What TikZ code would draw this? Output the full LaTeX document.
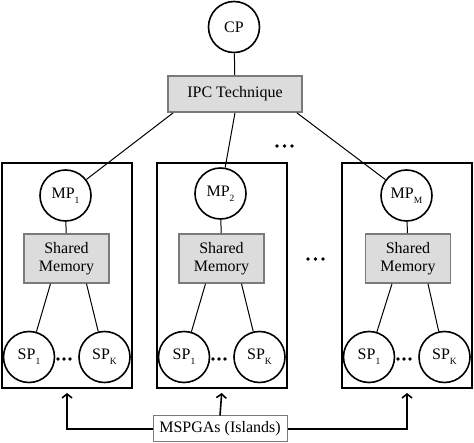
\documentclass[tikz,border=0pt]{standalone}
\usepackage{fontspec}
\setmainfont{Liberation Serif}
\usetikzlibrary{arrows.meta,calc}
\definecolor{boxfill}{HTML}{DCDCDC}
\definecolor{boxline}{HTML}{7A7A7A}
\newcommand{\mysub}[1]{\raisebox{-5pt}{\fontsize{9.5}{9.5}\selectfont #1}}
\tikzset{
  proc/.style={circle,draw,line width=1.6pt,minimum size=51pt,inner sep=0pt,font=\fontsize{16}{17}\selectfont},
  gbox/.style={rectangle,draw=boxline,fill=boxfill,line width=1.6pt,inner sep=0pt,font=\fontsize{16}{18.5}\selectfont,align=center},
  frame/.style={rectangle,draw,line width=2pt,minimum width=130pt,minimum height=225pt,inner sep=0pt},
  conn/.style={line width=1pt},
  arr/.style={line width=1.6pt,-{Straight Barb[length=4pt,width=10pt]},shorten >=4pt},
  dot/.style={radius=1.9pt}
}
\begin{document}
\begin{tikzpicture}[x=1pt,y=-1pt]
\useasboundingbox (0,0) rectangle (474,443);
% frames
\node[frame] (box1) at (67,275.5) {};
\node[frame] (box2) at (222,275.5) {};
\node[frame] (box3) at (407,275.5) {};
% top
\node[proc] (cp) at (234,27) {CP};
\node[gbox,minimum width=134pt,minimum height=36pt] (ipc) at (235,94) {IPC Technique};
\draw[conn] (cp) -- (ipc);
% MPs
\node[proc,fill=white] (mp1) at (65.5,195.5) {MP\mysub{1}};
\node[proc,fill=white] (mp2) at (220.5,193.5) {MP\mysub{2}};
\node[proc,fill=white] (mpm) at (406.5,195.5) {MP\mysub{M}};
\draw[conn] ([xshift=6pt]ipc.south west) -- (mp1);
\draw[conn] (ipc.south) -- (mp2);
\draw[conn] ([xshift=-6pt]ipc.south east) -- (mpm);
% shared memory
\node[gbox,minimum width=85pt,minimum height=49pt] (sm1) at (66.5,258.5) {Shared\\Memory};
\node[gbox,minimum width=85pt,minimum height=49pt] (sm2) at (221.5,258.5) {Shared\\Memory};
\node[gbox,minimum width=85pt,minimum height=49pt] (sm3) at (408,258.5) {Shared\\Memory};
\draw[conn] (mp1) -- (sm1);
\draw[conn] (mp2) -- (sm2);
\draw[conn] (mpm) -- (sm3);
% SPs
\node[proc] (sp11) at (29,357) {SP\mysub{1}};
\node[proc] (sp1k) at (104.5,357) {SP\mysub{K}};
\node[proc] (sp21) at (184,357) {SP\mysub{1}};
\node[proc] (sp2k) at (259.5,357) {SP\mysub{K}};
\node[proc] (sp31) at (369,357) {SP\mysub{1}};
\node[proc] (sp3k) at (444.5,357) {SP\mysub{K}};
\draw[conn] ([xshift=-16pt]sm1.south) -- (sp11);
\draw[conn] ([xshift=20pt]sm1.south) -- (sp1k);
\draw[conn] ([xshift=-16pt]sm2.south) -- (sp21);
\draw[conn] ([xshift=20pt]sm2.south) -- (sp2k);
\draw[conn] ([xshift=-16pt]sm3.south) -- (sp31);
\draw[conn] ([xshift=20pt]sm3.south) -- (sp3k);
% dots
\foreach \x in {58,64,70} \fill (\x,359) circle[dot];
\foreach \x in {213,219,225} \fill (\x,359) circle[dot];
\foreach \x in {398,404,410} \fill (\x,359) circle[dot];
\foreach \x in {277,284.5,292} \fill (\x,146) circle[dot];
\foreach \x in {308,315.5,323} \fill (\x,259) circle[dot];
% bottom
\node[rectangle,draw=boxline,fill=white,line width=1pt,minimum width=134pt,minimum height=26pt,inner sep=0pt,font=\fontsize{16}{18}\selectfont] (msp) at (220,429) {MSPGAs (Islands)};
\draw[arr] (msp.west) -| (box1.south);
\draw[arr] (msp.north) -- (box2.south);
\draw[arr] (msp.east) -| (box3.south);
\end{tikzpicture}
\end{document}
